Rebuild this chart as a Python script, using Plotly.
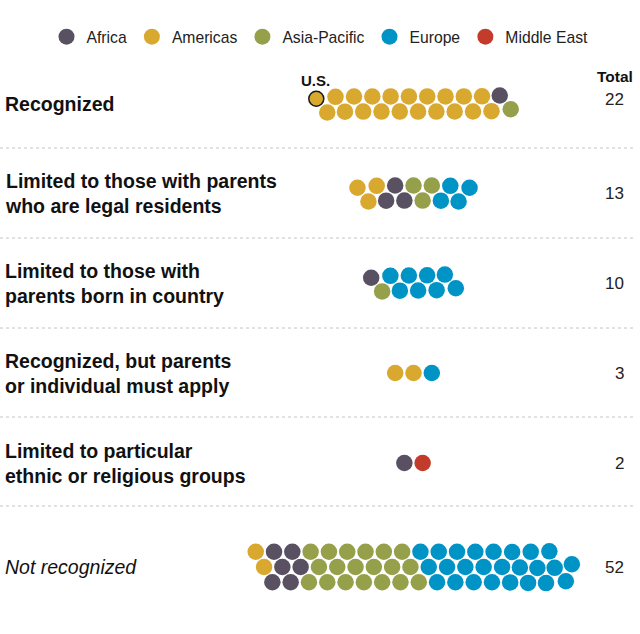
import math
import numpy as np
import plotly.graph_objects as go

# ---------------- data ----------------
regions = ["Africa", "Americas", "Asia-Pacific", "Europe", "Middle East"]
categories = [
    "Recognized",
    "Limited to those with parents<br>who are legal residents",
    "Limited to those with<br>parents born in country",
    "Recognized, but parents<br>or individual must apply",
    "Limited to particular<br>ethnic or religious groups",
    "Not recognized",
]
# number of countries per category, by region
africa = [1, 3, 1, 0, 1, 6]
americas = [20, 3, 0, 2, 0, 2]   # Recognized includes the U.S.
asia_pacific = [1, 3, 1, 0, 0, 19]
europe = [0, 4, 8, 1, 0, 25]
middle_east = [0, 0, 0, 0, 1, 0]
highlight_label = "U.S."         # first Americas country in "Recognized"

counts = {"Africa": africa, "Americas": americas, "Asia-Pacific": asia_pacific,
          "Europe": europe, "Middle East": middle_east}

# ---------------- styles / layout ----------------
colors = {"Africa": "#595061", "Americas": "#d8a82f", "Asia-Pacific": "#96a04b",
          "Europe": "#0093c6", "Middle East": "#c33b2b"}
swarm_order = ["Americas", "Africa", "Asia-Pacific", "Europe", "Middle East"]
W, H = 640, 634
row_y = [104, 193, 283, 373, 463, 567]
sep_y = [148, 238, 328, 417, 506]
center_x = 413.5
pitch = 18.3
collide = 17.5
dot_size = 16.5
FONT = "Liberation Sans, Arial, sans-serif"


def swarm(n, cy):
    lanes = max(1, math.ceil(math.sqrt(n) / 2.5))
    step = pitch / lanes
    tx = center_x + (np.arange(n) - (n - 1) / 2) * step
    x = tx.copy()
    k = np.arange(n) % lanes
    y = cy + (k - (lanes - 1) / 2) * collide * 0.9
    y = y.astype(float)
    for _ in range(400):
        x += (tx - x) * 0.15
        y += (cy - y) * 0.04
        for _ in range(3):
            dx = x[:, None] - x[None, :]
            dy = y[:, None] - y[None, :]
            dist = np.hypot(dx, dy) + np.eye(n)
            ov = np.clip(collide - dist, 0, None)
            np.fill_diagonal(ov, 0)
            push = ov / dist / 2
            x += (dx * push).sum(1)
            y += (dy * push).sum(1)
    return x, y


pts = {r: ([], []) for r in regions}
hl = None
totals = []
for i, cat in enumerate(categories):
    seq = []
    for r in swarm_order:
        seq += [r] * counts[r][i]
    totals.append(len(seq))
    xs, ys = swarm(len(seq), row_y[i])
    first_am = True
    for r, xv, yv in zip(seq, xs, ys):
        if i == 0 and r == "Americas" and first_am:
            hl = (xv, yv)
            first_am = False
            continue
        pts[r][0].append(xv)
        pts[r][1].append(yv)

fig = go.Figure()
for r in regions:
    fig.add_trace(go.Scatter(
        x=pts[r][0], y=pts[r][1], mode="markers", name=r,
        marker=dict(size=dot_size, color=colors[r], line=dict(width=0)),
        hoverinfo="skip"))
fig.add_trace(go.Scatter(
    x=[hl[0]], y=[hl[1]], mode="markers", showlegend=False,
    marker=dict(size=dot_size - 1.5, color=colors["Americas"], line=dict(width=1.5, color="#1a1a1a")),
    hoverinfo="skip"))

ann = []
for i, cat in enumerate(categories):
    txt = "<i>%s</i>" % cat if cat == "Not recognized" else "<b>%s</b>" % cat
    ann.append(dict(x=3, y=row_y[i], xref="x", yref="y", text=txt, showarrow=False,
                    xanchor="left", yanchor="middle", align="left",
                    font=dict(family=FONT, size=19.5, color="#111")))
    ann.append(dict(x=626, y=row_y[i] - (5 if i == 0 else 0), xref="x", yref="y",
                    text=str(totals[i]), showarrow=False, xanchor="right", yanchor="middle",
                    font=dict(family=FONT, size=17, color="#222")))
ann.append(dict(x=635, y=76, xref="x", yref="y", text="<b>Total</b>", showarrow=False,
                xanchor="right", yanchor="middle", font=dict(family=FONT, size=15.5, color="#111")))
ann.append(dict(x=hl[0] - 1, y=hl[1] - 18, xref="x", yref="y", text="<b>%s</b>" % highlight_label,
                showarrow=False, xanchor="center", yanchor="middle",
                font=dict(family=FONT, size=15, color="#111")))

shapes = [dict(type="line", xref="x", yref="y", x0=0, x1=634, y0=s, y1=s,
               line=dict(color="#c4c4c4", width=1, dash="3px,3px")) for s in sep_y]

fig.update_layout(
    width=W, height=H, margin=dict(l=0, r=0, t=0, b=0),
    paper_bgcolor="white", plot_bgcolor="white",
    xaxis=dict(range=[0, W], visible=False, fixedrange=True),
    yaxis=dict(range=[H, 0], visible=False, fixedrange=True),
    showlegend=True,
    legend=dict(orientation="h", x=0.5, xanchor="center", y=1 - 37 / H, yanchor="middle",
                font=dict(family=FONT, size=15.7, color="#222"), bgcolor="rgba(0,0,0,0)",
                itemsizing="trace"),
    annotations=ann, shapes=shapes,
)
fig.write_html("out.html")
